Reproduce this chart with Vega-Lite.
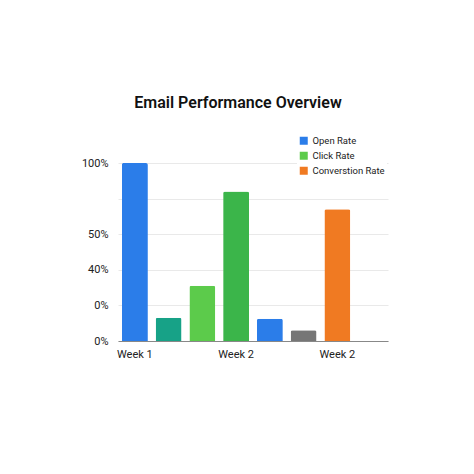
{
  "$schema": "https://vega.github.io/schema/vega-lite/v6.json",
  "autosize": {"type": "none"},
  "padding": {"left": 118, "top": 163, "right": 86, "bottom": 133},
  "width": 270,
  "height": 178,
  "background": "white",
  "title": {
    "text": "Email Performance Overview",
    "font": "Roboto",
    "fontSize": 16,
    "fontWeight": 600,
    "color": "#111111",
    "anchor": "middle",
    "dx": -15,
    "offset": 23
  },
  "data": {
    "values": [
      {"slot": 1, "series": "Open Rate", "rate": 100},
      {"slot": 2, "series": "Reply Rate", "rate": 13},
      {"slot": 3, "series": "Click Rate", "rate": 31},
      {"slot": 4, "series": "Click-Through Rate", "rate": 84},
      {"slot": 5, "series": "Open Rate", "rate": 12.5},
      {"slot": 6, "series": "Unsubscribe Rate", "rate": 6},
      {"slot": 7, "series": "Converstion Rate", "rate": 74}
    ]
  },
  "mark": {"type": "bar", "cornerRadiusTopLeft": 2, "cornerRadiusTopRight": 2},
  "encoding": {
    "x": {
      "field": "slot",
      "type": "ordinal",
      "scale": {"domain": [1, 2, 3, 4, 5, 6, 7, 8], "paddingInner": 0.23, "paddingOuter": 0.115},
      "axis": {
        "title": null,
        "labelAngle": 0,
        "ticks": false,
        "domainColor": "#888888",
        "labelPadding": 7,
        "labelFont": "Roboto",
        "labelFontSize": 11,
        "labelColor": "#222222",
        "labelExpr": "datum.value == 1 ? 'Week 1' : (datum.value == 4 || datum.value == 7) ? 'Week 2' : ''"
      }
    },
    "y": {
      "field": "rate",
      "type": "quantitative",
      "scale": {"domain": [0, 100], "nice": false},
      "axis": {
        "title": null,
        "values": [0, 20, 40, 60, 80, 100],
        "domain": false,
        "ticks": false,
        "gridColor": "#e9e9e9",
        "labelPadding": 10,
        "labelFont": "Roboto",
        "labelFontSize": 11,
        "labelColor": "#222222",
        "labelExpr": "datum.value == 100 ? '100%' : datum.value == 80 ? '' : datum.value == 60 ? '50%' : datum.value == 40 ? '40%' : '0%'"
      }
    },
    "color": {
      "field": "series",
      "type": "nominal",
      "scale": {
        "domain": ["Open Rate", "Click Rate", "Converstion Rate", "Reply Rate", "Click-Through Rate", "Unsubscribe Rate"],
        "range": ["#2b7de9", "#5ccb4b", "#f07a22", "#17a287", "#3bb54a", "#767676"]
      },
      "legend": {
        "title": null,
        "values": ["Open Rate", "Click Rate", "Converstion Rate"],
        "orient": "none",
        "legendX": 179,
        "legendY": -29,
        "symbolType": "square",
        "symbolSize": 64,
        "symbolStrokeWidth": 0,
        "labelFont": "Roboto",
        "labelFontSize": 9.5,
        "labelColor": "#222222",
        "rowPadding": 4,
        "fillColor": "white",
        "padding": 2
      }
    }
  },
  "config": {"view": {"stroke": null}}
}
